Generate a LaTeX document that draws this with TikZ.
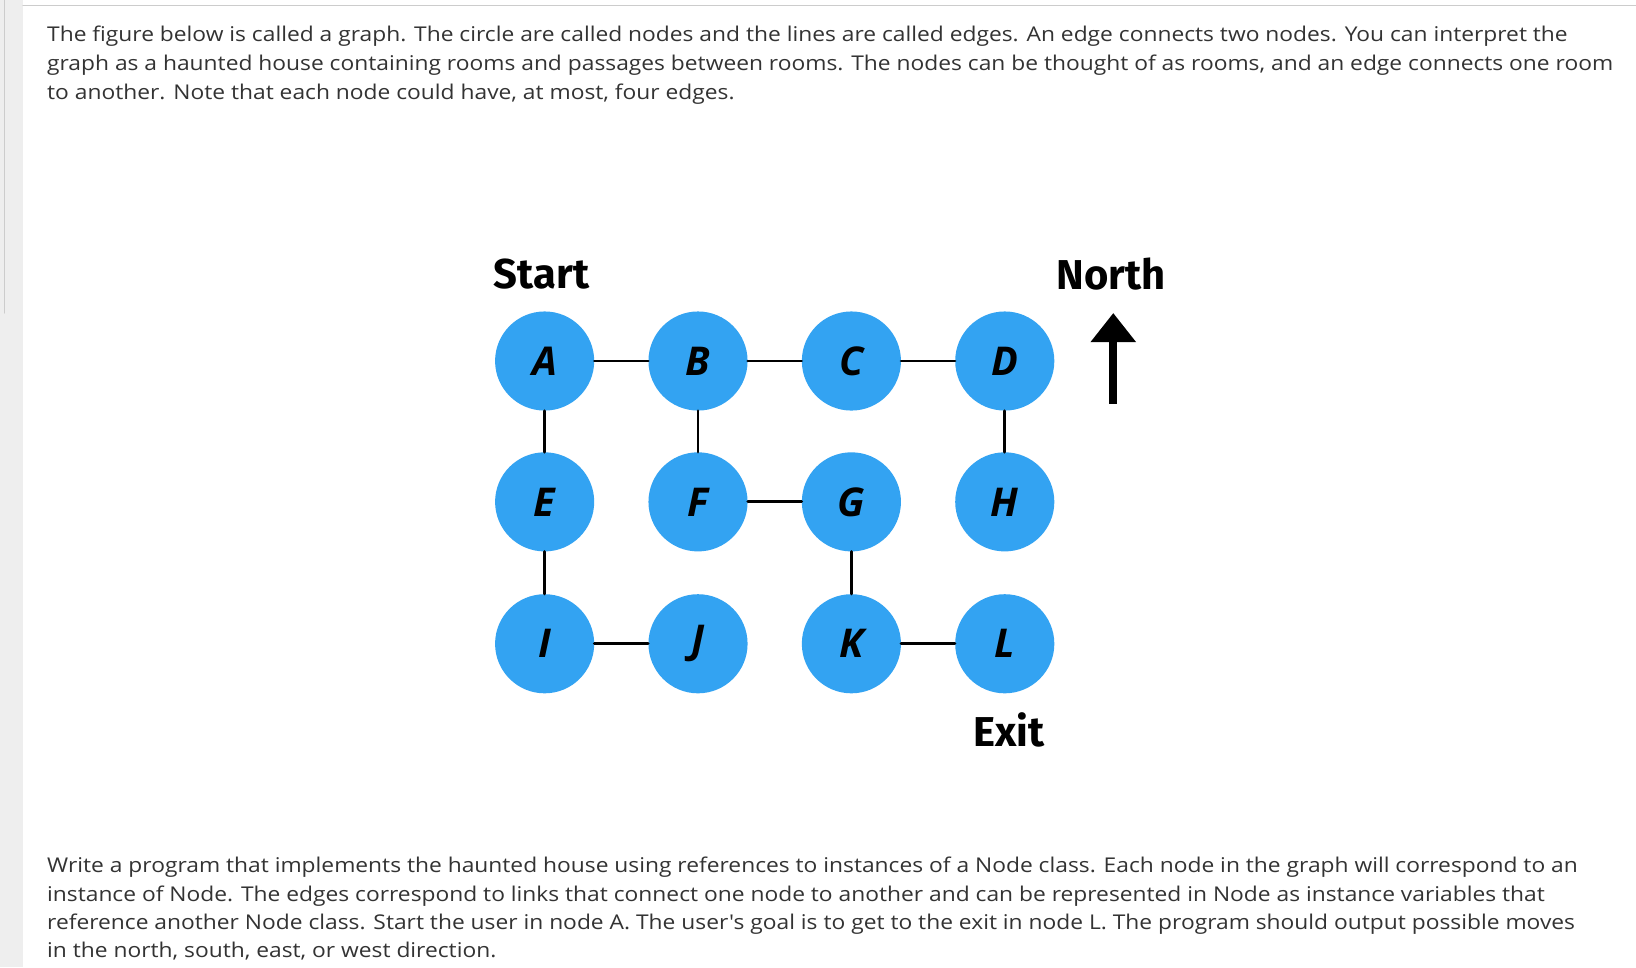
\documentclass[tikz,border=0pt]{standalone}
\usepackage{fontspec}
\setmainfont{Open Sans}
\newfontfamily\bodyfont[FakeStretch=1.12]{Open Sans}
\newfontfamily\handfont{Fira Sans}
\usetikzlibrary{positioning,arrows.meta}
\definecolor{roomblue}{HTML}{33A3F2}
\definecolor{bodytext}{HTML}{333333}
\definecolor{sidegray}{HTML}{EEEEEE}

\begin{document}
\begin{tikzpicture}[x=1pt, y=-1pt, line cap=round, line join=round,
    room/.style={circle, fill=roomblue, minimum size=95pt, inner sep=0pt,
                 font=\fontsize{38}{38}\selectfont\bfseries\itshape},
    passage/.style={line width=2.8pt, black},
    para/.style={anchor=base west, text=bodytext, inner sep=0pt,
                 font=\bodyfont\fontsize{19.5}{24}\selectfont},
    tag/.style={font=\handfont\fontsize{40}{40}\selectfont\bfseries, inner sep=0pt}]
  % page
  \useasboundingbox (0,0) rectangle (1568,927);
  \fill[white] (0,0) rectangle (1568,927);
  \fill[sidegray] (0,0) rectangle (22,927);
  \draw[gray!40, line width=1pt] (22,5) -- (1568,5);
  \draw[gray!40, line width=1pt] (4,0) -- (4,300);
  % top text
  \node[para] (t1) at (45,40) {The figure below is called a graph. The circle are called nodes and the lines are called edges. An edge connects two nodes. You can interpret the};
  \node[para] (t2) at (45,68) {graph as a haunted house containing rooms and passages between rooms. The nodes can be thought of as rooms, and an edge connects one room};
  \node[para] (t3) at (45,95) {to another. Note that each node could have, at most, four edges.};
  % rooms
  \foreach \name/\x/\y in {A/522/346, B/669/346, C/816/346, D/963/346,
                           E/522/481, F/669/481, G/816/481, H/963/481,
                           I/522/617, J/669/617, K/816/617, L/963/617}
    \node[room] (\name) at (\x,\y) {\name};
  % passages
  \foreach \u/\v in {A/B, B/C, C/D, A/E, B/F, D/H, F/G, E/I, G/K, I/J, K/L}
    \draw[passage] (\u) -- (\v);
  % labels
  \node[tag] (start) at (519,263) {Start};
  \node[tag] (north) at (1065,263) {North};
  \node[tag] (exit) at (967,700) {Exit};
  \coordinate (tail) at (1067,387);
  \coordinate (head) at (1067,300);
  \draw[line width=8pt, line cap=butt, -{Triangle[length=28pt, width=42pt]}] (tail) -- (head);
  % bottom text
  \node[para] (b1) at (45,836) {Write a program that implements the haunted house using references to instances of a Node class. Each node in the graph will correspond to an};
  \node[para] (b2) at (45,864) {instance of Node. The edges correspond to links that connect one node to another and can be represented in Node as instance variables that};
  \node[para] (b3) at (45,891) {reference another Node class. Start the user in node A. The user{\char"27}s goal is to get to the exit in node L. The program should output possible moves};
  \node[para] (b4) at (45,918) {in the north, south, east, or west direction.};
\end{tikzpicture}
\end{document}
